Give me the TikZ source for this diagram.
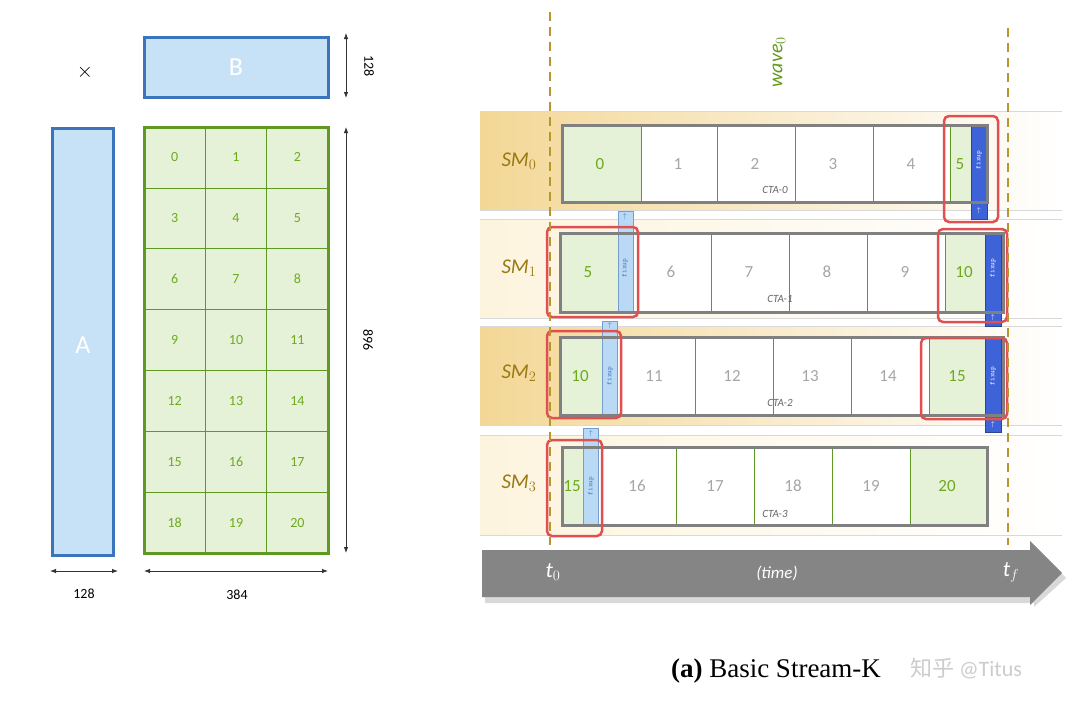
\documentclass[tikz,border=0pt]{standalone}
\usepackage{fontspec}
\setmainfont{Carlito}
\newfontfamily\capfont{Liberation Serif}
\newfontfamily\cjk{Noto Sans CJK SC}
\usetikzlibrary{arrows.meta,shapes.arrows}
\definecolor{bfill}{HTML}{C7E1F7}
\definecolor{bline}{HTML}{3A74BA}
\definecolor{gfill}{HTML}{E6F2D8}
\definecolor{gline}{HTML}{5E9A22}
\definecolor{gtext}{HTML}{6DAA1E}
\definecolor{gold}{HTML}{F3D796}
\definecolor{pale}{HTML}{FDF4DE}
\definecolor{dashc}{HTML}{B8962E}
\definecolor{smtext}{HTML}{9A7812}
\definecolor{fixd}{HTML}{3E63D8}
\definecolor{fixl}{HTML}{B9D9F5}
\definecolor{redb}{HTML}{E05050}
\tikzset{
 mat/.style={draw=bline,line width=3pt,fill=bfill},
 dim/.style={{Latex[length=6pt]}-{Latex[length=6pt]},line width=0.8pt,draw=black!80},
 num/.style={text=gtext,font=\fontsize{14}{14}\selectfont},
 cell/.style={draw=gline,line width=0.6pt,fill=white},
 gcell/.style={draw=gline,line width=0.6pt,fill=gfill},
 cta/.style={draw=black!50,line width=3pt},
 fixdark/.style={fill=fixd,draw=fixd!70!black,line width=0.4pt},
 fixlight/.style={fill=fixl,draw=bline!70,line width=0.4pt},
 redbox/.style={draw=redb,line width=2.5pt,rounded corners=5pt},
 fixtxt/.style={font=\ttfamily\fontsize{7}{7}\selectfont,rotate=90},
 cellnum/.style={font=\fontsize{17}{17}\selectfont},
 waveline/.style={draw=dashc,line width=2pt,dash pattern=on 9pt off 6pt},
}
\begin{document}
\begin{tikzpicture}[x=1pt,y=-1pt]
\useasboundingbox (0,0) rectangle (1081,715);
% ---- left: matrices
\node (x) at (85,72) {\fontsize{20}{20}\selectfont$\times$};
\draw[mat] (144,37) rectangle (328,97);
\node[text=white,font=\fontsize{26}{26}\selectfont] (B) at (236,67) {B};
\draw[mat] (52,128) rectangle (113,555);
\node[text=white,font=\fontsize{26}{26}\selectfont] (A) at (83,345) {A};
\fill[gfill] (144,127) rectangle (328,553);
\foreach \i in {1,2} \draw[gline,line width=0.7pt] ({144+\i*61.33},127) -- ({144+\i*61.33},553);
\foreach \j in {1,...,6} \draw[gline,line width=0.7pt] (144,{127+\j*60.86}) -- (328,{127+\j*60.86});
\draw[gline,line width=3pt] (144,127) rectangle (328,553);
\foreach \j in {0,...,6} \foreach \i in {0,1,2} {
  \pgfmathtruncatemacro\n{\j*3+\i}
  \node[num] (g\n) at ({174.7+\i*61.33},{157.4+\j*60.86}) {\n};
}
\coordinate (d1a) at (346,33); \coordinate (d1b) at (346,98);
\draw[dim] (d1a) -- (d1b);
\node[rotate=-90,font=\fontsize{14}{14}\selectfont] (l128a) at (369,66) {128};
\coordinate (d2a) at (346,127); \coordinate (d2b) at (346,553);
\draw[dim] (d2a) -- (d2b);
\node[rotate=-90,font=\fontsize{14}{14}\selectfont] (l896) at (368,340) {896};
\coordinate (d3a) at (50,571); \coordinate (d3b) at (118,571);
\draw[dim] (d3a) -- (d3b);
\node[font=\fontsize{14}{14}\selectfont] (l128b) at (84,594) {128};
\coordinate (d4a) at (144,571); \coordinate (d4b) at (328,571);
\draw[dim] (d4a) -- (d4b);
\node[font=\fontsize{14}{14}\selectfont] (l384) at (237,595) {384};
% ---- right: bands
\shade[left color=gold,right color=white] (480,111) rectangle (1062,210);
\shade[left color=pale,right color=white] (480,219) rectangle (1062,318);
\shade[left color=gold,right color=white] (480,326) rectangle (1062,425);
\shade[left color=pale,right color=white] (480,435) rectangle (1062,535);
\foreach \y in {111,210,219,318,326,425,435,535} \draw[black!15,line width=0.6pt] (480,\y) -- (1062,\y);
\foreach \k/\y in {0/161,1/268,2/373,3/483}
  \node[text=smtext,font=\itshape\fontsize{21}{21}\selectfont] (sm\k) at (519,\y) {SM$_{\k}$};
% SM0
\foreach \a/\b/\s in {562/641/gcell,641/717/cell,717/795/cell,795/873/cell,873/950/cell,950/971/gcell}
  \draw[\s] (\a,125) rectangle (\b,202);
\foreach \t/\x/\c in {0/600/gtext,1/678/black!35,2/755/black!35,3/833/black!35,4/911/black!35,5/960/gtext}
  \node[cellnum,text=\c] (c0-\t) at (\x,164) {\t};
\draw[fixdark] (971,125) rectangle (987,219);
\node[fixtxt,text=white] at (979,160) {fixup};
\node[text=white,font=\fontsize{7}{7}\selectfont] at (979,211) {$\uparrow$};
\draw[cta] (562,125) rectangle (987,202);
\node[text=black!60,font=\itshape\fontsize{11}{11}\selectfont] (cta0) at (775,190) {CTA-0};
% SM1
\foreach \a/\b/\s in {560/618/gcell,633/711/cell,711/789/cell,789/867/cell,867/945/cell,945/985/gcell}
  \draw[\s] (\a,233) rectangle (\b,312);
\foreach \t/\x/\c in {5/588/gtext,6/671/black!35,7/749/black!35,8/827/black!35,9/905/black!35,10/964/gtext}
  \node[cellnum,text=\c] (c1-\t) at (\x,272) {\t};
\draw[fixlight] (618,211) rectangle (633,312);
\node[fixtxt,text=bline] at (625,268) {fixup};
\node[text=bline,font=\fontsize{7}{7}\selectfont] at (625,217) {$\uparrow$};
\draw[fixdark] (985,233) rectangle (1001,326);
\node[fixtxt,text=white] at (993,268) {fixup};
\node[text=white,font=\fontsize{7}{7}\selectfont] at (993,318) {$\uparrow$};
\draw[cta] (560,233) rectangle (1003,312);
\node[text=black!60,font=\itshape\fontsize{11}{11}\selectfont] (cta1) at (780,299) {CTA-1};
% SM2
\foreach \a/\b/\s in {560/602/gcell,617/695/cell,695/773/cell,773/851/cell,851/929/cell,929/985/gcell}
  \draw[\s] (\a,337) rectangle (\b,415);
\foreach \t/\x/\c in {10/580/gtext,11/654/black!35,12/732/black!35,13/810/black!35,14/888/black!35,15/957/gtext}
  \node[cellnum,text=\c] (c2-\t) at (\x,376) {\t};
\draw[fixlight] (602,321) rectangle (617,415);
\node[fixtxt,text=bline] at (610,376) {fixup};
\node[text=bline,font=\fontsize{7}{7}\selectfont] at (610,326) {$\uparrow$};
\draw[fixdark] (985,337) rectangle (1001,432);
\node[fixtxt,text=white] at (993,376) {fixup};
\node[text=white,font=\fontsize{7}{7}\selectfont] at (993,425) {$\uparrow$};
\draw[cta] (560,337) rectangle (1003,415);
\node[text=black!60,font=\itshape\fontsize{11}{11}\selectfont] (cta2) at (780,403) {CTA-2};
% SM3
\foreach \a/\b/\s in {562/583/gcell,598/676/cell,676/754/cell,754/832/cell,832/910/cell,910/987/gcell}
  \draw[\s] (\a,447) rectangle (\b,525);
\foreach \t/\x/\c in {15/572/gtext,16/637/black!35,17/715/black!35,18/793/black!35,19/871/black!35,20/947/gtext}
  \node[cellnum,text=\c] (c3-\t) at (\x,486) {\t};
\draw[fixlight] (583,428) rectangle (598,525);
\node[fixtxt,text=bline] at (591,486) {fixup};
\node[text=bline,font=\fontsize{7}{7}\selectfont] at (591,434) {$\uparrow$};
\draw[cta] (562,447) rectangle (987,525);
\node[text=black!60,font=\itshape\fontsize{11}{11}\selectfont] (cta3) at (775,514) {CTA-3};
% red highlight boxes
\draw[redbox] (944,116) rectangle (998,222);
\draw[redbox] (547,227) rectangle (638,317);
\draw[redbox] (938,229) rectangle (1007,322);
\draw[redbox] (547,331) rectangle (621,418);
\draw[redbox] (921,338) rectangle (1007,419);
\draw[redbox] (547,440) rectangle (602,536);
% dashed wave lines
\coordinate (w1a) at (550,12); \coordinate (w1b) at (550,545);
\coordinate (w2a) at (1008,28); \coordinate (w2b) at (1008,545);
\draw[waveline] (w1a) -- (w1b);
\draw[waveline] (w2a) -- (w2b);
\node[rotate=90,text=gtext!90!black,font=\itshape\fontsize{20}{20}\selectfont] (wave) at (779,62) {wave$_0$};
% time arrow
\fill[black!15] (485,553) -- (1034,553) -- (1034,545) -- (1066,578) -- (1034,607) -- (1034,603) -- (485,603) -- cycle;
\fill[black!48] (482,550) -- (1030,550) -- (1030,541) -- (1062,573) -- (1030,605) -- (1030,597) -- (482,597) -- cycle;
\node[text=white,font=\itshape\fontsize{22}{22}\selectfont] (t0) at (553,572) {t$_0$};
\node[text=white,font=\itshape\fontsize{17}{17}\selectfont] (time) at (777,573) {(time)};
\node[text=white,font=\itshape\fontsize{22}{22}\selectfont] (tf) at (1011,572) {t$_f$};
% caption
\node[font=\capfont\fontsize{27}{27}\selectfont] (cap) at (776,671) {\textbf{(a)} Basic Stream-K};
\node[text=black!25,font=\fontsize{22}{22}\selectfont,opacity=0.8] (wm) at (966,668) {{\cjk 知乎} @Titus};
\end{tikzpicture}
\end{document}
